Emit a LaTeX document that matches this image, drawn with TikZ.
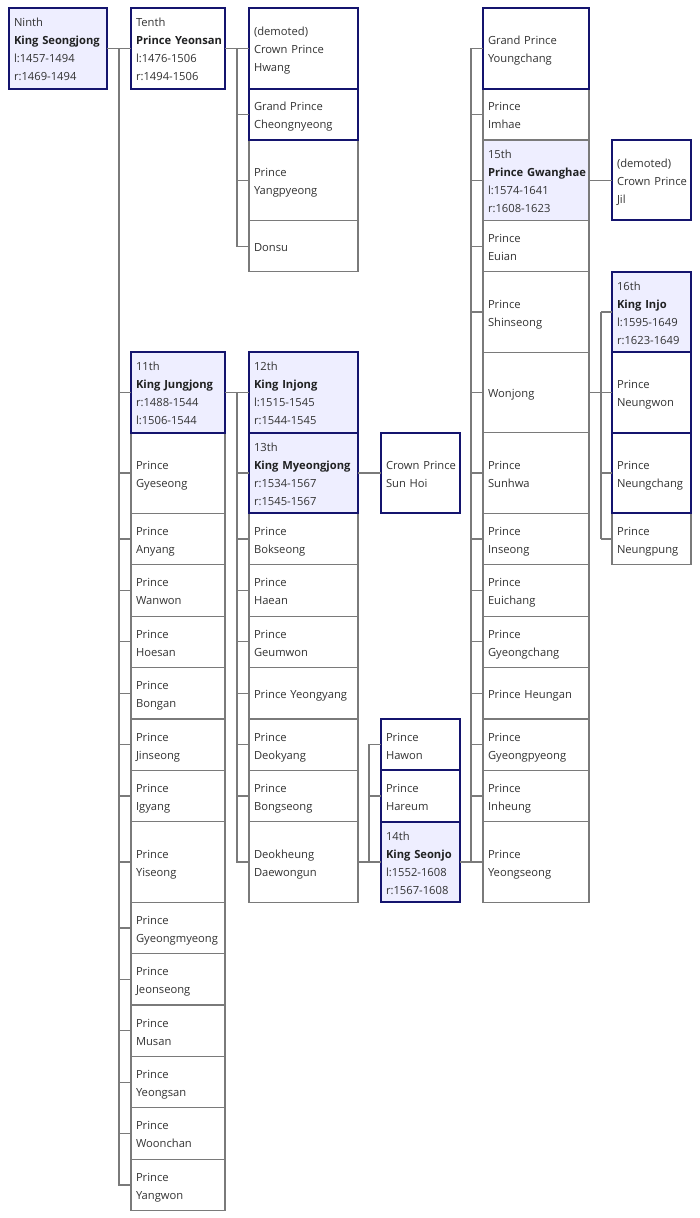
\documentclass[tikz,border=0pt]{standalone}
\usepackage{fontspec}
\setmainfont{Open Sans}
\definecolor{lav}{HTML}{EEEEFF}
\definecolor{navyb}{HTML}{14146E}
\definecolor{grayb}{HTML}{7A7A7A}
\definecolor{txt}{HTML}{333333}
\definecolor{txtb}{HTML}{202122}
\newcommand\tx[1]{\raisebox{-1.8pt}[\height][\depth]{\begin{tabular}{@{}l@{}}#1\end{tabular}}}
\tikzset{
  base/.style={anchor=north west, outer sep=0pt, inner xsep=5pt, inner ysep=0pt, align=left,
    font=\fontsize{11.2}{18}\selectfont, text=txt},
  gb/.style={base, draw=grayb, line width=1.2pt, fill=white},
  nb/.style={base, draw=navyb, line width=2pt, fill=white},
  lb/.style={base, draw=navyb, line width=2pt, fill=lav},
  lg/.style={base, draw=grayb, line width=1.2pt, fill=lav},
  ca/.style={minimum width=98pt, text width=88pt},
  cb/.style={minimum width=94pt, text width=84pt},
  cc/.style={minimum width=109pt, text width=99pt},
  cd/.style={minimum width=79pt, text width=69pt},
  ce/.style={minimum width=106pt, text width=96pt},
  cf/.style={minimum width=79pt, text width=69pt},
  T/.style={minimum height=80.5pt},
  S/.style={minimum height=51.4pt},
  conn/.style={draw=grayb, line width=1.2pt}
}
\newcommand\bn[1]{\textbf{\color{txtb}#1}}
\begin{document}
\begin{tikzpicture}[x=1pt,y=-1pt]
\useasboundingbox (0,0) rectangle (700,1218);
% ---------- gray-bordered boxes ----------
% column 2
\node[gb,cb,T] (gyeseong) at (131,432.8) {\tx{Prince\\Gyeseong}};
\node[gb,cb,S] (anyang) at (131,513.3) {\tx{Prince\\Anyang}};
\node[gb,cb,S] (wanwon) at (131,564.7) {\tx{Prince\\Wanwon}};
\node[gb,cb,S] (hoesan) at (131,616.1) {\tx{Prince\\Hoesan}};
\node[gb,cb,S] (bongan) at (131,667.5) {\tx{Prince\\Bongan}};
\node[gb,cb,S] (jinseong) at (131,718.9) {\tx{Prince\\Jinseong}};
\node[gb,cb,S] (igyang) at (131,770.3) {\tx{Prince\\Igyang}};
\node[gb,cb,T] (yiseong) at (131,821.7) {\tx{Prince\\Yiseong}};
\node[gb,cb,S] (gyeongmyeong) at (131,902.2) {\tx{Prince\\Gyeongmyeong}};
\node[gb,cb,S] (jeonseong) at (131,953.6) {\tx{Prince\\Jeonseong}};
\node[gb,cb,S] (musan) at (131,1005) {\tx{Prince\\Musan}};
\node[gb,cb,S] (yeongsan) at (131,1056.4) {\tx{Prince\\Yeongsan}};
\node[gb,cb,S] (woonchan) at (131,1107.8) {\tx{Prince\\Woonchan}};
\node[gb,cb,S] (yangwon) at (131,1159.2) {\tx{Prince\\Yangwon}};
% column 3
\node[gb,cc,T] (yangpyeong) at (249,139.9) {\tx{Prince\\Yangpyeong}};
\node[gb,cc,S] (donsu) at (249,220.4) {\tx{Donsu}};
\node[gb,cc,S] (bokseong) at (249,513.3) {\tx{Prince\\Bokseong}};
\node[gb,cc,S] (haean) at (249,564.7) {\tx{Prince\\Haean}};
\node[gb,cc,S] (geumwon) at (249,616.1) {\tx{Prince\\Geumwon}};
\node[gb,cc,S] (yeongyang) at (249,667.5) {\tx{Prince Yeongyang}};
\node[gb,cc,S] (deokyang) at (249,718.9) {\tx{Prince\\Deokyang}};
\node[gb,cc,S] (bongseong) at (249,770.3) {\tx{Prince\\Bongseong}};
\node[gb,cc,T] (deokheung) at (249,821.7) {\tx{Deokheung\\Daewongun}};
% column 5
\node[gb,ce,S] (imhae) at (483,88.5) {\tx{Prince\\Imhae}};
\node[lg,ce,T] (gwanghae) at (483,139.9) {\tx{15th\\\bn{Prince Gwanghae}\\l:1574-1641\\r:1608-1623}};
\node[gb,ce,S] (euian) at (483,220.4) {\tx{Prince\\Euian}};
\node[gb,ce,T] (shinseong) at (483,271.8) {\tx{Prince\\Shinseong}};
\node[gb,ce,T] (wonjong) at (483,352.3) {\tx{Wonjong}};
\node[gb,ce,T] (sunhwa) at (483,432.8) {\tx{Prince\\Sunhwa}};
\node[gb,ce,S] (inseong) at (483,513.3) {\tx{Prince\\Inseong}};
\node[gb,ce,S] (euichang) at (483,564.7) {\tx{Prince\\Euichang}};
\node[gb,ce,S] (gyeongchang) at (483,616.1) {\tx{Prince\\Gyeongchang}};
\node[gb,ce,S] (heungan) at (483,667.5) {\tx{Prince Heungan}};
\node[gb,ce,S] (gyeongpyeong) at (483,718.9) {\tx{Prince\\Gyeongpyeong}};
\node[gb,ce,S] (inheung) at (483,770.3) {\tx{Prince\\Inheung}};
\node[gb,ce,T] (yeongseong) at (483,821.7) {\tx{Prince\\Yeongseong}};
% column 6
\node[gb,cf,S] (neungpung) at (612,513.3) {\tx{Prince\\Neungpung}};
% ---------- navy-bordered boxes ----------
\node[lb,ca,T] (seongjong) at (9,8) {\tx{Ninth\\\bn{King Seongjong}\\l:1457-1494\\r:1469-1494}};
\node[nb,cb,T] (yeonsan) at (131,8) {\tx{Tenth\\\bn{Prince Yeonsan}\\l:1476-1506\\r:1494-1506}};
\node[lb,cb,T] (jungjong) at (131,352.3) {\tx{11th\\\bn{King Jungjong}\\r:1488-1544\\l:1506-1544}};
\node[nb,cc,T] (hwang) at (249,8) {\tx{(demoted)\\Crown Prince\\Hwang}};
\node[nb,cc,S] (cheongnyeong) at (249,88.5) {\tx{Grand Prince\\Cheongnyeong}};
\node[lb,cc,T] (injong) at (249,352.3) {\tx{12th\\\bn{King Injong}\\l:1515-1545\\r:1544-1545}};
\node[lb,cc,T] (myeongjong) at (249,432.8) {\tx{13th\\\bn{King Myeongjong}\\r:1534-1567\\r:1545-1567}};
\node[nb,cd,T] (sunhoi) at (381,432.8) {\tx{Crown Prince\\Sun Hoi}};
\node[nb,cd,S] (hawon) at (381,718.9) {\tx{Prince\\Hawon}};
\node[nb,cd,S] (hareum) at (381,770.3) {\tx{Prince\\Hareum}};
\node[lb,cd,T] (seonjo) at (381,821.7) {\tx{14th\\\bn{King Seonjo}\\l:1552-1608\\r:1567-1608}};
\node[nb,ce,T] (youngchang) at (483,8) {\tx{Grand Prince\\Youngchang}};
\node[nb,cf,T] (jil) at (612,139.9) {\tx{(demoted)\\Crown Prince\\Jil}};
\node[lb,cf,T] (injo) at (612,271.8) {\tx{16th\\\bn{King Injo}\\l:1595-1649\\r:1623-1649}};
\node[nb,cf,T] (neungwon) at (612,352.3) {\tx{Prince\\Neungwon}};
\node[nb,cf,T] (neungchang) at (612,432.8) {\tx{Prince\\Neungchang}};
% ---------- connectors ----------
\coordinate (tA) at ([xshift=12pt]seongjong.east);
\draw[conn] (seongjong.east) -- (tA) |- (yangwon.west);
\foreach \c in {yeonsan,jungjong,gyeseong,anyang,wanwon,hoesan,bongan,jinseong,igyang,yiseong,gyeongmyeong,jeonseong,musan,yeongsan,woonchan}
  \draw[conn] (tA |- \c.west) -- (\c.west);
\coordinate (tB) at ([xshift=12pt]yeonsan.east);
\draw[conn] (yeonsan.east) -- (tB) |- (donsu.west);
\foreach \c in {hwang,cheongnyeong,yangpyeong}
  \draw[conn] (tB |- \c.west) -- (\c.west);
\coordinate (tC) at ([xshift=12pt]jungjong.east);
\draw[conn] (jungjong.east) -- (tC) |- (deokheung.west);
\foreach \c in {injong,myeongjong,bokseong,haean,geumwon,yeongyang,deokyang,bongseong}
  \draw[conn] (tC |- \c.west) -- (\c.west);
\draw[conn] (myeongjong.east) -- (sunhoi.west);
\coordinate (tD) at ([xshift=11pt]deokheung.east);
\draw[conn] (deokheung.east) -- (tD) |- (hawon.west);
\foreach \c in {hareum,seonjo}
  \draw[conn] (tD |- \c.west) -- (\c.west);
\coordinate (tE) at ([xshift=11pt]seonjo.east);
\draw[conn] (seonjo.east) -- (tE) |- (youngchang.west);
\foreach \c in {imhae,gwanghae,euian,shinseong,wonjong,sunhwa,inseong,euichang,gyeongchang,heungan,gyeongpyeong,inheung,yeongseong}
  \draw[conn] (tE |- \c.west) -- (\c.west);
\draw[conn] (gwanghae.east) -- (jil.west);
\coordinate (tF) at ([xshift=12pt]wonjong.east);
\draw[conn] (wonjong.east) -- (tF);
\draw[conn] (tF |- injo.west) -- (tF |- neungpung.west);
\foreach \c in {injo,neungwon,neungchang,neungpung}
  \draw[conn] (tF |- \c.west) -- (\c.west);
\end{tikzpicture}
\end{document}
